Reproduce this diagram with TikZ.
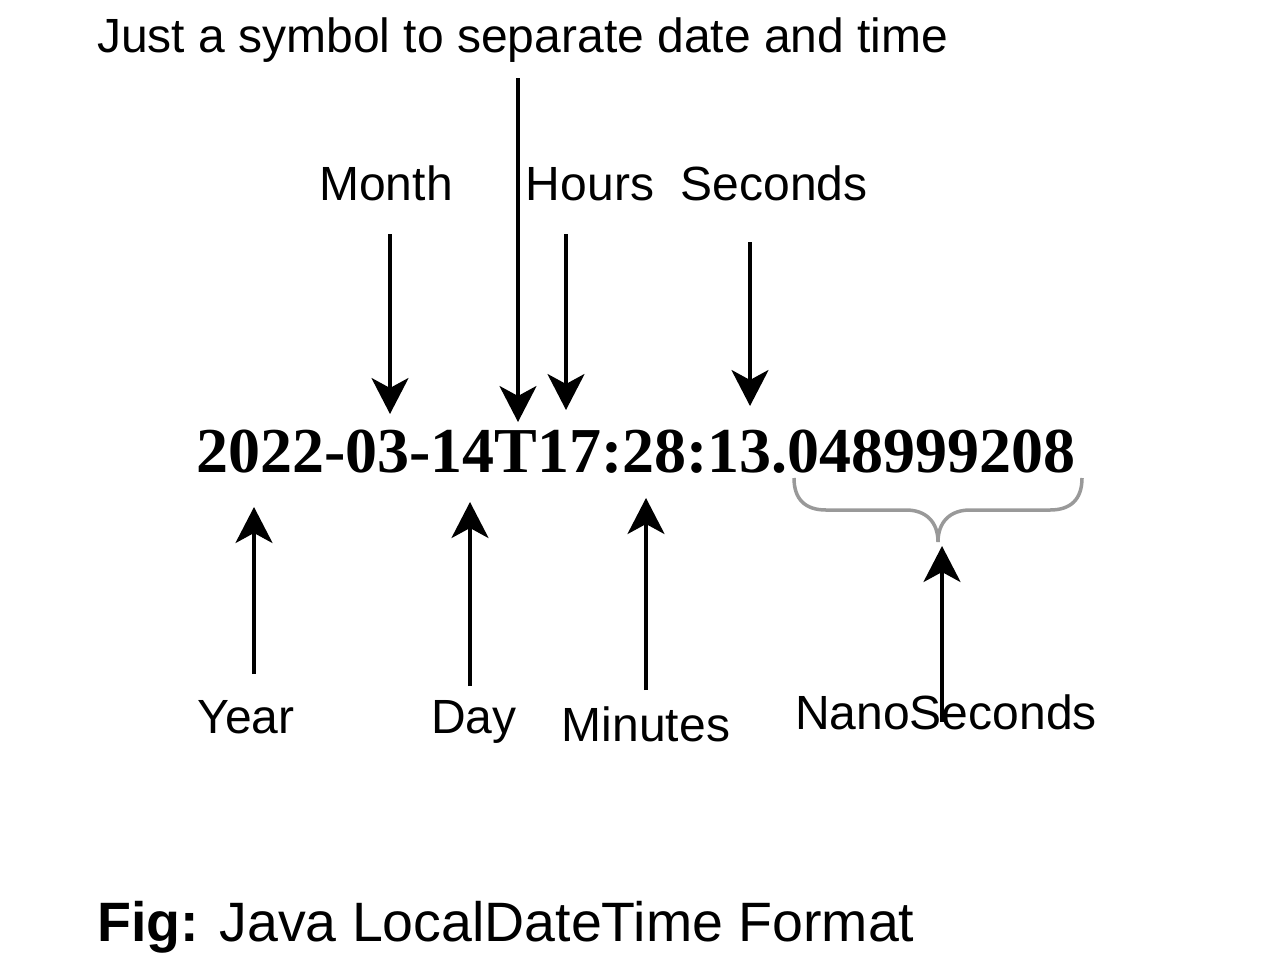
\documentclass[tikz,border=0pt]{standalone}
\usepackage{fontspec}
\setmainfont{Liberation Sans}
\newfontfamily\datefont{Liberation Serif}
\usetikzlibrary{arrows.meta}
\definecolor{bracegray}{HTML}{999999}
\begin{document}
\begin{tikzpicture}[x=1pt,y=-1pt,
        every node/.style={inner sep=0pt},
        lbl/.style={anchor=base,font=\fontsize{48}{58}\selectfont},
        arr/.style={line width=3.5pt,-{Stealth[length=36pt,width=37pt,inset=10pt]}}]
                \useasboundingbox (0,0) rectangle (1276,964);
                % texts
                \node[lbl,anchor=base west] (sep) at (97,52) {Just a symbol to separate date and time};
                \node[lbl] (month) at (386,200) {Month};
                \node[lbl] (hours) at (590,200) {Hours};
                \node[lbl] (secs) at (774,200) {Seconds};
                \node[anchor=base,font=\datefont\bfseries\fontsize{64}{76}\selectfont] (stamp) at (636,472) {2022-03-14T17:28:13.048999208};
                \node[lbl] (year) at (246,733) {Year};
                \node[lbl] (day) at (474,733) {Day};
                \node[lbl] (mins) at (646,741) {Minutes};
                \node[lbl] (nano) at (946,729) {NanoSeconds};
                \node[anchor=base west,font=\fontsize{55.5}{66}\selectfont] (cap) at (97,941) {\textbf{Fig:} Java LocalDateTime Format};
                % arrow ends
                \coordinate (M1) at (390,234);  \coordinate (M2) at (390,414);
                \coordinate (T1) at (518,78);   \coordinate (T2) at (518,422);
                \coordinate (H1) at (566,234);  \coordinate (H2) at (566,410);
                \coordinate (S1) at (750,242);  \coordinate (S2) at (750,406);
                \coordinate (Y1) at (254,674);  \coordinate (Y2) at (254,507);
                \coordinate (D1) at (470,686);  \coordinate (D2) at (470,502);
                \coordinate (I1) at (646,690);  \coordinate (I2) at (646,498);
                \coordinate (N1) at (942,722);  \coordinate (N2) at (942,546);
                \draw[arr] (M1) -- (M2);
                \draw[arr] (T1) -- (T2);
                \draw[arr] (H1) -- (H2);
                \draw[arr] (S1) -- (S2);
                \draw[arr] (Y1) -- (Y2);
                \draw[arr] (D1) -- (D2);
                \draw[arr] (I1) -- (I2);
                \draw[arr] (N1) -- (N2);
                % brace under the nanoseconds
                \draw[bracegray,line width=3.5pt] (794,478) .. controls (794,500) and (806,510) .. (826,510) -- (906,510)
                    .. controls (926,510) and (938,522) .. (938,542) .. controls (938,522) and (950,510) .. (970,510)
                    -- (1050,510) .. controls (1070,510) and (1082,500) .. (1082,478);
            \end{tikzpicture}
\end{document}
